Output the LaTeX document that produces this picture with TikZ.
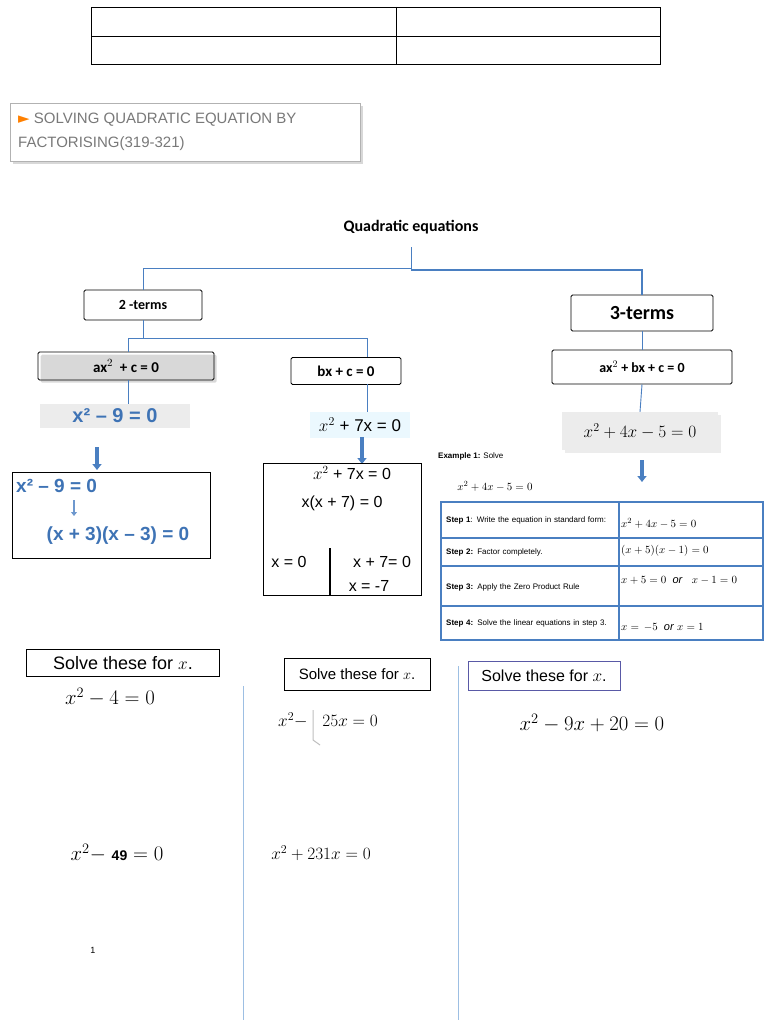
\documentclass[tikz,border=0pt]{standalone}
\usepackage{fontspec}
\setmainfont{Liberation Sans}
\newfontfamily\carl{Carlito}
\newfontfamily\dvs{DejaVu Sans}
\usetikzlibrary{shadows,arrows.meta}
\definecolor{lb}{HTML}{4A7FC1}
\definecolor{db}{HTML}{3E73B5}
\definecolor{bl}{HTML}{9DBFE3}
\begin{document}
\begin{tikzpicture}[x=1pt,y=-1pt,
 box/.style={draw,thick,rounded corners=1.5pt,inner sep=0},
 conn/.style={lb,line width=0.9pt},
 barrow/.style={lb,line width=3.5pt,-{Triangle[length=6pt,width=9pt]}},
 lbl/.style={inner sep=0,anchor=center}]
\useasboundingbox[fill=white] (0,0) rectangle (768,1024);
% top table
\draw[line width=0.7pt] (91,7) rectangle (660,64) (91,36) -- (660,36) (396,7) -- (396,64);
% banner
\node[draw=gray!60,fill=white,drop shadow={opacity=0.3},minimum width=350,minimum height=58,anchor=north west] (ban) at (10,103) {};
\node[lbl,anchor=west,text=gray!95!black,font=\fontsize{15}{18}\selectfont] (b1) at (18,120) {{\color{orange}\dvs ►} SOLVING QUADRATIC EQUATION BY};
\node[lbl,anchor=west,text=gray!95!black,font=\fontsize{15}{18}\selectfont] (b2) at (18,144) {FACTORISING(319-321)};
% heading
\node[lbl,font=\carl\bfseries\fontsize{16}{18}\selectfont] (qe) at (411,227) {Quadratic equations};
% boxes
\node[box,minimum width=118,minimum height=30] (t2) at (143,305) {\carl\bfseries\fontsize{14}{16}\selectfont 2 -terms};
\node[box,minimum width=142,minimum height=36] (t3) at (642,313) {\carl\bfseries\fontsize{20}{22}\selectfont 3-terms};
\node[box,minimum width=176,minimum height=28,drop shadow={opacity=0.3}] (e1) at (126,366) {\carl\bfseries\fontsize{15}{17}\selectfont ax$^2$\ \ + c = 0};
\node[box,minimum width=110,minimum height=27] (e2) at (346,371) {\carl\bfseries\fontsize{15}{17}\selectfont bx + c = 0};
\node[box,minimum width=180,minimum height=34] (e3) at (642,367) {\carl\bfseries\fontsize{14}{16}\selectfont ax$^2$ + bx + c = 0};
% connectors
\coordinate (q0) at (411,247);
\coordinate (qa) at (411,268);
\coordinate (ql) at (143,268);
\coordinate (qr) at (642,270);
\draw[conn] (q0) -- (qa) -- (ql) -- (t2.north);
\draw[conn,line width=1.6pt] (411,270) -- (qr) -- (t3.north);
\coordinate (s0) at (143,338);
\draw[conn] (t2.south) -- (s0) -- (128,338) -- (128,352);
\draw[conn] (s0) -- (367,338) -- (367,357);
\draw[conn] (t3.south) -- (e3.north);
% example equations
\node[fill=gray!15,minimum width=150,minimum height=24,inner sep=0,text=db,font=\bfseries\fontsize{20}{22}\selectfont] (x1) at (115,416) {x² – 9 = 0};
\node[fill=cyan!8,minimum width=100,minimum height=26,inner sep=0,font=\fontsize{17}{19}\selectfont] (x2) at (360,425) {$x^2$ + 7x = 0};
\node[fill=gray!15,minimum width=156,minimum height=38,inner sep=0,font=\fontsize{17}{19}\selectfont,drop shadow={opacity=0.15}] (x3) at (640,431) {$x^2+4x-5=0$};
\draw[conn] (128,380) -- (128,404);
\draw[conn] (367,384) -- (367,412);
\draw[conn] (e3.south) -- (x3.north);
% arrows
\coordinate (a1) at (97,447); \coordinate (a1e) at (97,470);
\coordinate (a2) at (362,437); \coordinate (a2e) at (362,464);
\coordinate (a3) at (642,460); \coordinate (a3e) at (642,482);
\draw[barrow] (a1) -- (a1e);
\draw[barrow] (a2) -- (a2e);
\draw[barrow] (a3) -- (a3e);
% left working box
\draw[line width=0.7pt] (12,472) rectangle (210,558);
\node[lbl,anchor=west,text=db,font=\bfseries\fontsize{19}{21}\selectfont] (l1) at (16,486) {x² – 9 = 0};
\coordinate (sa) at (74,500); \coordinate (sb) at (74,516);
\draw[lb!80,line width=2pt,-{Triangle[length=4pt,width=6pt]}] (sa) -- (sb);
\node[lbl,text=db,font=\bfseries\fontsize{19}{21}\selectfont] (l2) at (118,536) {(x + 3)(x – 3) = 0};
% middle working box
\draw[line width=0.7pt] (263,463) rectangle (421,595);
\begin{scope}[every node/.style={lbl,font=\fontsize{16}{18}\selectfont}]
\node (m1) at (352,473) {$x^2$ + 7x = 0};
\node (m2) at (342,503) {x(x + 7) = 0};
\node (m3) at (289,562) {x = 0};
\node (m4) at (382,562) {x + 7= 0};
\node (m5) at (369,586) {x = -7};
\end{scope}
\draw[line width=1.3pt] (330,548) -- (330,595);
% example 1
\node[lbl,anchor=west,font=\fontsize{8}{10}\selectfont] (ex) at (438,456) {\textbf{Example 1:} Solve};
\node[lbl,font=\fontsize{11}{13}\selectfont] (exq) at (495,486) {$x^2+4x-5=0$};
\draw[lb,line width=1.2pt] (441,502) rectangle (763,640) (619,502) -- (619,640) (441,538) -- (763,538) (441,566) -- (763,566) (441,606) -- (763,606);
\begin{scope}[every node/.style={lbl,anchor=west,font=\fontsize{8}{9.5}\selectfont,align=left,text width=170}]
\node (r1) at (446,520) {\textbf{Step 1}: Write the equation in standard form:};
\node (r2) at (446,552) {\textbf{Step 2:} Factor completely.};
\node (r3) at (446,587) {\textbf{Step 3:} Apply the Zero Product Rule};
\node (r4) at (446,623) {\textbf{Step 4:} Solve the linear equations in step 3.};
\end{scope}
\begin{scope}[every node/.style={lbl,anchor=west,font=\fontsize{11}{13}\selectfont}]
\node (c1) at (621,523) {$x^2+4x-5=0$};
\node (c2) at (621,551) {$(x+5)(x-1)=0$};
\node (c3) at (621,580) {$x+5=0$ \ \textit{or} \ \ $x-1=0$};
\node (c4) at (621,627) {$x=\,-5$ \ \textit{or} $x=1$};
\end{scope}
% solve these
\node[draw,line width=0.9pt,minimum width=193,minimum height=27,inner sep=0,font=\fontsize{18}{20}\selectfont] (s1) at (123,663) {Solve these for $x$.};
\node[draw,line width=0.9pt,minimum width=146,minimum height=32,inner sep=0,font=\fontsize{15}{17}\selectfont] (s2) at (357,674) {Solve these for $x$.};
\node[draw=gray!70!blue,line width=0.9pt,minimum width=152,minimum height=29,inner sep=0,font=\fontsize{16}{18}\selectfont] (s3) at (544,676) {Solve these for $x$.};
\draw[bl,line width=0.6pt] (243,686) -- (243,1020) (458,666) -- (458,1020);
\node[lbl,font=\fontsize{20}{22}\selectfont] (q1) at (110,697) {$x^2-4=0$};
\node[lbl,font=\fontsize{18}{20}\selectfont] (q2) at (328,720) {$x^2-\,$\hspace{12pt}$25x=0$};
\draw[gray!50,line width=1pt] (313,710) -- (313,740) -- (320,745);
\node[lbl,font=\fontsize{21}{23}\selectfont] (q3) at (592,723) {$x^2-9x+20=0$};
\node[lbl,font=\fontsize{21}{23}\selectfont] (q4) at (117,853) {$x^2-$ {\fontsize{14}{16}\selectfont\bfseries 49} $=0$};
\node[lbl,font=\fontsize{17}{19}\selectfont] (q5) at (321,853) {$x^2+231x=0$};
\node[lbl,font=\fontsize{9}{11}\selectfont] (pg) at (93,950) {1};
\end{tikzpicture}
\end{document}
